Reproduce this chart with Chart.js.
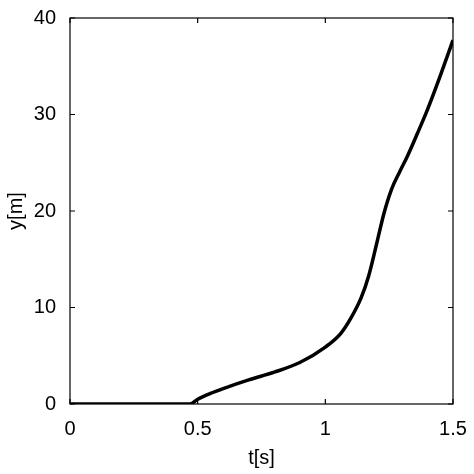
<!DOCTYPE html>
<html><head><script src="https://cdn.jsdelivr.net/npm/chart.js@4"></script>
<style>html,body{margin:0;padding:0;background:#fff}</style></head>
<body><div style="width:474px;height:474px"><canvas id="c"></canvas></div>
<script>
const tVals=[0,0.2,0.4,0.47,0.5,0.55,0.6,0.7,0.8,0.9,1.0,1.06,1.1,1.14,1.17,1.2,1.23,1.26,1.29,1.32,1.36,1.4,1.45,1.5];
const yVals=[0,0,0,0,0.5,1.1,1.6,2.5,3.3,4.3,5.9,7.3,8.9,11,13.3,16.5,19.8,22.3,24,25.6,28,30.5,34,37.7];
const xTicks=[0,0.5,1,1.5];
const yTicks=[0,10,20,30,40];
const font={family:'Liberation Sans, Arial',size:20};
const frame={id:'frame',afterDraw(ch){const a=ch.chartArea,c=ch.ctx;c.save();c.strokeStyle='#000';c.lineWidth=1.2;c.strokeRect(a.left,a.top,a.right-a.left,a.bottom-a.top);
const xs=ch.scales.x,ys=ch.scales.y;c.beginPath();
xTicks.forEach(v=>{const p=xs.getPixelForValue(v);c.moveTo(p,a.bottom);c.lineTo(p,a.bottom-5);c.moveTo(p,a.top);c.lineTo(p,a.top+5);});
yTicks.forEach(v=>{const p=ys.getPixelForValue(v);c.moveTo(a.left,p);c.lineTo(a.left+5,p);c.moveTo(a.right,p);c.lineTo(a.right-5,p);});
c.stroke();c.restore();}};
new Chart(document.getElementById('c'),{type:'scatter',
data:{datasets:[{data:tVals.map((t,i)=>({x:t,y:yVals[i]})),showLine:true,borderColor:'#000',borderWidth:3.5,pointRadius:0,cubicInterpolationMode:'monotone'}]},
options:{responsive:true,maintainAspectRatio:false,animation:false,
layout:{padding:{top:12,right:21,left:0,bottom:0}},
plugins:{legend:{display:false},tooltip:{enabled:false}},
scales:{
x:{type:'linear',min:0,max:1.5,afterBuildTicks(s){s.ticks=xTicks.map(v=>({value:v}));},afterFit(s){s.height=70;},
grid:{display:false},border:{display:false},ticks:{color:'#000',font,padding:5,callback:v=>String(v)},
title:{display:true,text:'t[s]',color:'#000',font,padding:{top:0}}},
y:{min:0,max:40,afterBuildTicks(s){s.ticks=yTicks.map(v=>({value:v}));},afterFit(s){s.width=70;},
grid:{display:false},border:{display:false},ticks:{color:'#000',font,padding:6},
title:{display:true,text:'y[m]',color:'#000',font,padding:{bottom:2}}}}},
plugins:[frame]});
</script></body></html>
